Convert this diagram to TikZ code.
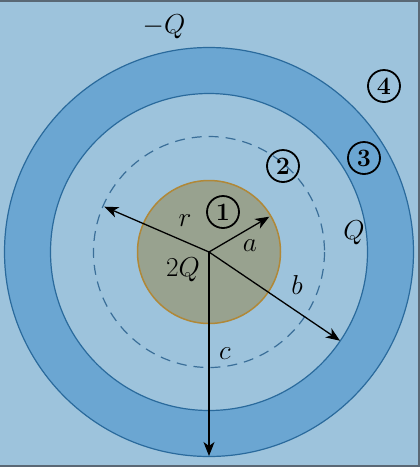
\documentclass[tikz,border=0pt]{standalone}
\usepackage{graphicx}
\usetikzlibrary{arrows.meta}
\definecolor{bgblue}{HTML}{9DC3DC}
\definecolor{shellblue}{HTML}{6BA6D2}
\definecolor{edgeblue}{HTML}{2A6A9C}
\definecolor{dashblue}{HTML}{3A6E98}
\definecolor{ballfill}{HTML}{98A28F}
\definecolor{balledge}{HTML}{B08838}
\definecolor{framegray}{HTML}{5A6875}
\newcommand{\biglbl}[1]{\scalebox{1.1}{$#1$}}
\tikzset{
  radarrow/.style={draw=black, line width=1.3pt, -{Stealth[length=14pt,width=11pt,inset=4pt]}},
  lbl/.style={font=\fontsize{24.88}{30}\selectfont, inner sep=0pt},
  region/.style={draw=black, circle, line width=1.8pt, minimum size=32pt, inner sep=0pt, font=\fontsize{25}{28}\selectfont\bfseries}
}
\begin{document}
\begin{tikzpicture}[x=1pt,y=-1pt]
\useasboundingbox (0,0) rectangle (420,467);
\fill[framegray] (0,0) rectangle (420,467);
\fill[bgblue] (0,1.5) rectangle (417.5,464.5);
\coordinate (O) at (209,252);
% outer shell
\fill[shellblue, draw=edgeblue, line width=1.2pt] (O) circle[radius=204.5];
\fill[bgblue, draw=edgeblue, line width=1.2pt] (O) circle[radius=158.5];
% gaussian surface
\draw[dashblue, line width=1.2pt, dash pattern=on 10pt off 7pt] (O) circle[radius=115.5];
% ball
\fill[ballfill, draw=balledge, line width=1.5pt] (O) circle[radius=71.5];
% arrow tips
\coordinate (rt) at (104.3,206.7);
\coordinate (at) at (269.3,216.7);
\coordinate (bt) at (340,340.7);
\coordinate (ct) at (209,456);
\draw[radarrow] (O) -- (rt);
\draw[radarrow] (O) -- (at);
\draw[radarrow] (O) -- (bt);
\draw[radarrow, line width=1.1pt] (O) -- (ct);
% labels
\node[lbl] (lr) at (185,221) {\biglbl{r}};
\node[lbl] (la) at (250,246) {\biglbl{a}};
\node[lbl] (l2Q) at (183,270) {\biglbl{2Q}};
\node[lbl] (lb) at (297,285) {\biglbl{b}};
\node[lbl] (lc) at (225,354) {\biglbl{c}};
\node[lbl] (lQ) at (354,233) {\biglbl{Q}};
\node[lbl] (lmQ) at (164,27) {\biglbl{-Q}};
\node[region] (n1) at (223,212) {1};
\node[region] (n2) at (283,166) {2};
\node[region] (n3) at (364,158) {3};
\node[region] (n4) at (384,86) {4};
\end{tikzpicture}
\end{document}
